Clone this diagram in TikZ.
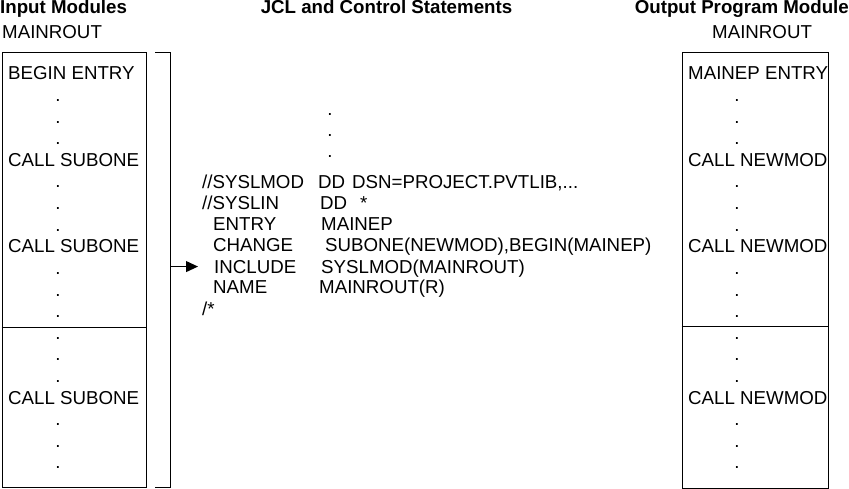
\documentclass[tikz,border=0pt]{standalone}
\usepackage{fontspec}
\setmainfont{Liberation Sans}
\usetikzlibrary{positioning,calc,arrows.meta}

\begin{document}
\begin{tikzpicture}[x=1pt,y=-1pt,
            font=\fontsize{18.7pt}{22pt}\selectfont,
            modbox/.style={draw, line width=1pt, minimum width=144pt, inner sep=0pt},
            modtxt/.style={anchor=base west, inner sep=0pt},
            moddot/.style={anchor=base, inner sep=0pt},
            jcl/.style={anchor=base west, inner sep=0pt},
            title/.style={font=\fontsize{18.7pt}{22pt}\selectfont\bfseries, inner sep=0pt}]

            \useasboundingbox (0,0) rectangle (849,489);

            % headings
            \node [title,anchor=base west] (tin) at (0,14) {Input Modules};
            \node [title,anchor=base] (tjcl) at (386.5,14) {JCL and Control Statements};
            \node [title,anchor=base east] (tout) at (849,14) {Output Program Module};
            \node [modtxt] (nin) at (2,39) {MAINROUT};
            \node [modtxt] (nout) at (712,39) {MAINROUT};

            % input module
            \node [modbox,minimum height=434pt] (inbox) at (74,270) {};
            \draw [line width=1pt] (inbox.west |- 0,327) -- (inbox.east |- 0,327);
            \foreach \i/\t in {0/BEGIN ENTRY,4/CALL SUBONE,8/CALL SUBONE,15/CALL SUBONE}
                \node [modtxt] (in\i) at (8,{80+21.6*\i}) {\t};
            \foreach \i in {1,2,3,5,6,7,9,10,11,12,13,14,16,17,18}
                \node [moddot] (ind\i) at (58,{80+21.6*\i}) {.};

            % output module
            \node [modbox,minimum height=435pt,minimum width=146pt] (outbox) at (755,270.5) {};
            \draw [line width=1pt] (outbox.west |- 0,326) -- (outbox.east |- 0,326);
            \foreach \i/\t in {0/MAINEP ENTRY,4/CALL NEWMOD,8/CALL NEWMOD,15/CALL NEWMOD}
                \node [modtxt] (out\i) at (688,{80+21.6*\i}) {\t};
            \foreach \i in {1,2,3,5,6,7,9,10,11,12,13,14,16,17,18}
                \node [moddot] (outd\i) at (737,{80+21.6*\i}) {.};

            % JCL
            \foreach \i in {0,1,2}
                \node [moddot] (jd\i) at (330,{116+21*\i}) {.};
            \node [jcl] (lmod) at (202,189) {//SYSLMOD};
            \node [jcl] (lmodb) at (318,189) {DD};
            \node [jcl] (lmodc) at (352,189) {DSN=PROJECT.PVTLIB,...};
            \node [jcl] (lin) at (202,210) {//SYSLIN};
            \node [jcl] (linb) at (320,210) {DD};
            \node [jcl] (linc) at (360,210) {*};
            \node [jcl] (ent) at (213,231) {ENTRY};
            \node [jcl] (entb) at (321,231) {MAINEP};
            \node [jcl] (chg) at (213,252) {CHANGE};
            \node [jcl] (chgb) at (325,252) {SUBONE(NEWMOD),BEGIN(MAINEP)};
            \node [jcl] (inc) at (214,273) {INCLUDE};
            \node [jcl] (incb) at (321,273) {SYSLMOD(MAINROUT)};
            \node [jcl] (nam) at (213,294) {NAME};
            \node [jcl] (namb) at (319,294) {MAINROUT(R)};
            \node [jcl] (cend) at (202,315) {/*};

            % bracket and arrow
            \coordinate (brtl) at (155,53);
            \coordinate (brbl) at (155,487);
            \coordinate (brx) at (170.5,0);
            \draw [line width=1pt] (brtl) -- (brtl -| brx) -- (brbl -| brx) -- (brbl);
            \draw [line width=1pt,-{Triangle[length=12pt,width=11pt]},shorten >=16pt]
                (brx |- inc.west) -- (inc.west);
\end{tikzpicture}
\end{document}
